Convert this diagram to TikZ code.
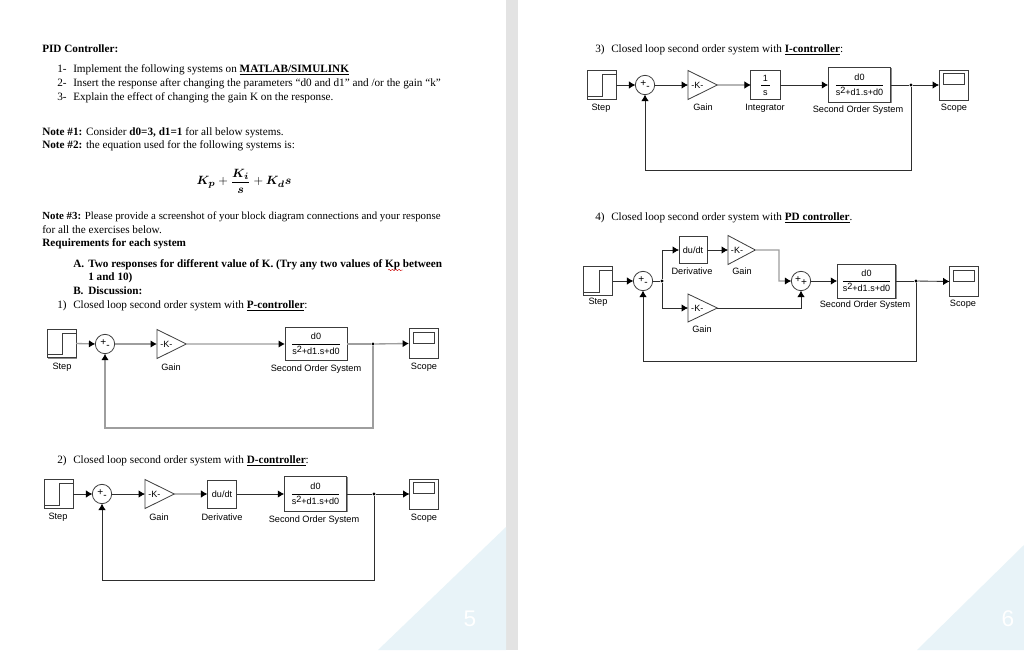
\documentclass[tikz,border=0pt]{standalone}
\usepackage{amsmath,amssymb}
\usepackage{fontspec}
\setmainfont{Liberation Serif}
\setsansfont{Liberation Sans}
\usepackage{xcolor}
\usepackage{tikz}
\usetikzlibrary{arrows.meta,positioning,shapes.geometric,shadows,decorations.pathmorphing}
\definecolor{ggutter}{HTML}{E3E3E3}
\definecolor{gcorner}{HTML}{E8F3F8}
\definecolor{gwire}{HTML}{2E2E2E}
\definecolor{gpale}{HTML}{9E9E9E}
\definecolor{gedge}{HTML}{3C3C3C}
\newcommand{\tfbody}{$\displaystyle\frac{\mbox{d0}}{\mbox{s\raisebox{2pt}{2}+d1.s+d0}}$}
\newcommand{\intbody}{$\displaystyle\frac{\mbox{\,1\,}}{\mbox{\,s\,}}$}
\newcommand{\pidbody}{$\boldsymbol{K_p} + \dfrac{\boldsymbol{K_i}}{\boldsymbol{s}} + \boldsymbol{K_d s}$}
\tikzset{
  doc/.style={anchor=base west,inner sep=0pt,font=\fontsize{8.4pt}{10pt}\selectfont},
  block/.style={draw=gedge,fill=white,line width=0.6pt,inner sep=0pt,outer sep=0pt,
    font=\sffamily\fontsize{6.8pt}{8pt}\selectfont,
    drop shadow={shadow xshift=0.6pt,shadow yshift=-0.6pt,fill=black!45,opacity=1}},
  stepblk/.style={block,minimum width=21.75pt,minimum height=21.5pt,
    path picture={\draw[gedge,line width=0.5pt]
      ([shift={(0pt,2.5pt)}]path picture bounding box.south west) -- ++(11.5pt,0pt)
      -- ++(0pt,16pt) -- ++(10.5pt,0pt);}},
  scopeblk/.style={block,minimum width=21.75pt,minimum height=22.5pt,
    path picture={\draw[gedge,line width=0.5pt]
      ([shift={(3pt,-2.5pt)}]path picture bounding box.north west) rectangle
      ([shift={(-3pt,-11pt)}]path picture bounding box.north east);}},
  sumblk/.style={circle,draw=gedge,fill=white,line width=0.6pt,minimum size=14.5pt,inner sep=0pt,
    outer sep=0pt,font=\sffamily\fontsize{7.6pt}{7.6pt}\selectfont},
  gainblk/.style={isosceles triangle,isosceles triangle stretches,draw=gedge,fill=white,
    line width=0.6pt,minimum width=21.75pt,minimum height=22pt,inner sep=0pt,outer sep=0pt,
    anchor=west,font=\sffamily\fontsize{6.8pt}{8pt}\selectfont},
  blklabel/.style={inner sep=0pt,font=\sffamily\fontsize{6.9pt}{8pt}\selectfont},
  jointdot/.style={circle,fill=black,minimum size=2.6pt,inner sep=0pt},
  wire/.style={draw=gwire,line width=0.65pt,-{Latex[black,length=4.8pt,width=5.6pt]}},
  wirepale/.style={wire,draw=gpale,line width=1pt},
  plainwire/.style={draw=gwire,line width=0.65pt},
  palewire/.style={draw=gpale,line width=1pt}
}
\begin{document}
\begin{tikzpicture}[x=0.75pt,y=-0.75pt]
  \useasboundingbox (0,0) rectangle (1024,650);
  \fill[white] (0,0) rectangle (1024,650);
  \fill[ggutter] (506,0) rectangle (518,650);
  \fill[gcorner] (378,650) -- (506,527) -- (506,650) -- cycle;
  \fill[gcorner] (917,650) -- (1024,545) -- (1024,650) -- cycle;
  \node[anchor=center,text=white,inner sep=0pt,font=\sffamily\fontsize{17pt}{17pt}\selectfont] (pagefive) at (470,619) {5};
  \node[anchor=center,text=white,inner sep=0pt,font=\sffamily\fontsize{17pt}{17pt}\selectfont] (pagesix) at (1008,619) {6};

  % Text of the left page
  \node[doc] (title) at (42,52) {\textbf{PID Controller:}};
  \node[doc] (numa) at (57,72) {1-};
  \node[doc] (itema) at (73,72) {Implement the following systems on \textbf{\underline{MATLAB/SIMULINK}}};
  \node[doc] (numb) at (57,86) {2-};
  \node[doc] (itemb) at (73,86) {Insert the response after changing the parameters “d0 and d1” and /or the gain “k”};
  \node[doc] (numc) at (57,100) {3-};
  \node[doc] (itemc) at (73,100) {Explain the effect of changing the gain K on the response.};
  \node[doc] (notea) at (42,135) {\textbf{Note \#1:} Consider \textbf{d0=3, d1=1} for all below systems.};
  \node[doc] (noteb) at (42,148) {\textbf{Note \#2:} the equation used for the following systems is:};
  \node[inner sep=0pt,font=\fontsize{9.5pt}{11pt}\selectfont] (pideq) at (244,181) {\pidbody};
  \node[doc,font=\fontsize{8.15pt}{10pt}\selectfont] (notec) at (42,219) {\textbf{Note \#3:} Please provide a screenshot of your block diagram connections and your response};
  \node[doc] (notecb) at (42,233) {for all the exercises below.};
  \node[doc] (reqs) at (42,246) {\textbf{Requirements for each system}};
  \node[doc] (reqa) at (73,267) {\textbf{A.}};
  \node[doc] (reqatext) at (88,267) {\textbf{Two responses for different value of K. (Try any two values of Kp between}};
  \node[doc] (reqatwo) at (88,280) {\textbf{1 and 10)}};
  \node[doc] (reqb) at (73,294) {\textbf{B.}};
  \node[doc] (reqbtext) at (88,294) {\textbf{Discussion:}};
  \draw[red!80!black,line width=0.3pt,decorate,decoration={snake,amplitude=0.5pt,segment length=2.5pt}]
    (388,270) -- (403,270);
  \node[doc] (heada) at (57,308) {1)};
  \node[doc] (headatext) at (73,308) {Closed loop second order system with \textbf{\underline{P-controller}}:};
  \node[doc] (headb) at (57,463) {2)};
  \node[doc] (headbtext) at (73,463) {Closed loop second order system with \textbf{\underline{D-controller}}:};

  % Text of the right page
  \node[doc] (headc) at (595,52) {3)};
  \node[doc] (headctext) at (611,52) {Closed loop second order system with \textbf{\underline{I-controller}}:};
  \node[doc] (headd) at (595,220) {4)};
  \node[doc] (headdtext) at (611,220) {Closed loop second order system with \textbf{\underline{PD controller}}.};

  % System 1: P-controller
  \node[stepblk] (stepa) at (61.5,343.5) {};
  \node[sumblk] (suma) at (105,344) {+\raisebox{-2pt}{-}};
  \node[gainblk] (gaina) at (157,344) {-K-};
  \node[block,minimum width=46.5pt,minimum height=25pt] (tfa) at (316,344) {\tfbody};
  \node[jointdot] (joina) at (373,344) {};
  \node[scopeblk] (scopea) at (423.5,343.5) {};
  \coordinate (backa) at (105,428);
  \node[blklabel] (steplbla) at (62,367) {Step};
  \node[blklabel] (gainlbla) at (171,367) {Gain};
  \node[blklabel] (tflbla) at (316,369) {Second Order System};
  \node[blklabel] (scopelbla) at (424,367) {Scope};
  \draw[wirepale] (stepa.east) -- (suma.west);
  \draw[wirepale] (suma.east) -- (gaina.west);
  \draw[wirepale] (gaina.east) -- (tfa.west);
  \draw[palewire] (tfa.east) -- (joina);
  \draw[wirepale] (joina) -- (scopea.west);
  \draw[wirepale] (joina) |- (backa) -- (suma.south);

  % System 2: D-controller
  \node[stepblk] (stepb) at (58.5,494) {};
  \node[sumblk] (sumb) at (102,494) {+\raisebox{-2pt}{-}};
  \node[gainblk] (gainb) at (145,494) {-K-};
  \node[block,minimum width=22pt,minimum height=21pt] (derivb) at (222,494) {du/dt};
  \node[block,minimum width=47pt,minimum height=26pt] (tfb) at (315.5,494) {\tfbody};
  \node[jointdot] (joinb) at (374,494) {};
  \node[scopeblk] (scopeb) at (424,494) {};
  \coordinate (backb) at (102,580);
  \node[blklabel] (steplblb) at (58,517) {Step};
  \node[blklabel] (gainlblb) at (159,517) {Gain};
  \node[blklabel] (derivlblb) at (222,517) {Derivative};
  \node[blklabel] (tflblb) at (314,520) {Second Order System};
  \node[blklabel] (scopelblb) at (424,518) {Scope};
  \draw[wire] (stepb.east) -- (sumb.west);
  \draw[wire] (sumb.east) -- (gainb.west);
  \draw[wire] (gainb.east) -- (derivb.west);
  \draw[wire] (derivb.east) -- (tfb.west);
  \draw[plainwire] (tfb.east) -- (joinb);
  \draw[wire] (joinb) -- (scopeb.west);
  \draw[wire] (joinb) |- (backb) -- (sumb.south);

  % System 3: I-controller
  \node[stepblk] (stepc) at (601.5,85) {};
  \node[sumblk] (sumc) at (645,85) {+\raisebox{-2pt}{-}};
  \node[gainblk] (gainc) at (688,85) {-K-};
  \node[block,minimum width=22pt,minimum height=22pt] (intc) at (765.5,85) {\intbody};
  \node[block,minimum width=47pt,minimum height=26pt] (tfc) at (859.5,85) {\tfbody};
  \node[jointdot] (joinc) at (911,85) {};
  \node[scopeblk] (scopec) at (953.5,85) {};
  \coordinate (backc) at (645,170);
  \node[blklabel] (steplblc) at (601,108) {Step};
  \node[blklabel] (gainlblc) at (703,107) {Gain};
  \node[blklabel] (intlblc) at (765,108) {Integrator};
  \node[blklabel] (tflblc) at (858,110) {Second Order System};
  \node[blklabel] (scopelblc) at (954,108) {Scope};
  \draw[wire] (stepc.east) -- (sumc.west);
  \draw[wire] (sumc.east) -- (gainc.west);
  \draw[wire] (gainc.east) -- (intc.west);
  \draw[wire] (intc.east) -- (tfc.west);
  \draw[plainwire] (tfc.east) -- (joinc);
  \draw[wire] (joinc) -- (scopec.west);
  \draw[wire] (joinc) |- (backc) -- (sumc.south);

  % System 4: PD controller
  \node[stepblk] (stepd) at (598,281) {};
  \node[sumblk] (sumd) at (643,281) {+\raisebox{-2pt}{-}};
  \node[jointdot] (splitd) at (662,281) {};
  \node[block,minimum width=21pt,minimum height=20.5pt] (derivd) at (693,250) {du/dt};
  \node[gainblk,minimum height=20.5pt] (gainupd) at (728,250) {-K-};
  \node[gainblk,minimum width=21pt] (gainlowd) at (688,308) {-K-};
  \node[sumblk] (sumtwod) at (801,281) {+\raisebox{-2pt}{+}};
  \node[block,minimum width=44pt,minimum height=25.5pt] (tfd) at (866.5,281) {\tfbody};
  \node[jointdot] (joind) at (916,281) {};
  \node[scopeblk] (scoped) at (964,281.5) {};
  \coordinate (bendd) at (779,250);
  \coordinate (backd) at (643,361);
  \node[blklabel] (steplbld) at (598,302) {Step};
  \node[blklabel] (derivlbld) at (692,271) {Derivative};
  \node[blklabel] (gainuplbld) at (742,271) {Gain};
  \node[blklabel] (gainlowlbld) at (702,329) {Gain};
  \node[blklabel] (tflbld) at (865,305) {Second Order System};
  \node[blklabel] (scopelbld) at (963,304) {Scope};
  \draw[wire] (stepd.east) -- (sumd.west);
  \draw[plainwire] (sumd.east) -- (splitd);
  \draw[wire] (splitd) |- (derivd.west);
  \draw[wire] (splitd) |- (gainlowd.west);
  \draw[wire] (derivd.east) -- (gainupd.west);
  \draw[wirepale] (gainupd.east) -- (bendd) |- (sumtwod.west);
  \draw[wire] (gainlowd.east) -| (sumtwod.south);
  \draw[wire] (sumtwod.east) -- (tfd.west);
  \draw[plainwire] (tfd.east) -- (joind);
  \draw[wire] (joind) -- (scoped.west);
  \draw[wire] (joind) |- (backd) -- (sumd.south);
\end{tikzpicture}
\end{document}
